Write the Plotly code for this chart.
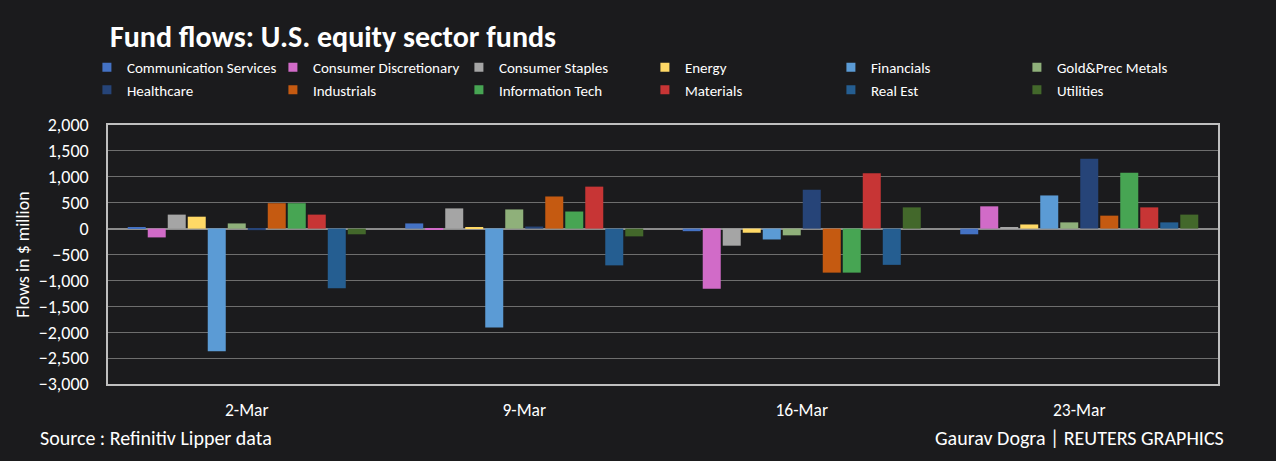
import plotly.graph_objects as go

weeks = ["2-Mar", "9-Mar", "16-Mar", "23-Mar"]
sectors = ["Communication Services", "Consumer Discretionary", "Consumer Staples", "Energy",
           "Financials", "Gold&Prec Metals", "Healthcare", "Industrials",
           "Information Tech", "Materials", "Real Est", "Utilities"]
colors = ["#4472C4", "#D16BC8", "#A5A5A5", "#FFD966",
          "#5B9BD5", "#8FB07A", "#264478", "#C55A11",
          "#47A553", "#C73535", "#255E91", "#43682B"]

comm_services = [25, 100, -50, -110]
consumer_disc = [-170, -10, -1160, 430]
consumer_staples = [270, 390, -330, 20]
energy = [230, 25, -80, 80]
financials = [-2370, -1910, -210, 640]
gold_prec_metals = [100, 370, -130, 120]
healthcare = [-30, 40, 750, 1350]
industrials = [490, 620, -850, 250]
information_tech = [490, 330, -850, 1080]
materials = [270, 810, 1070, 410]
real_est = [-1150, -710, -700, 120]
utilities = [-110, -150, 410, 270]

series = [comm_services, consumer_disc, consumer_staples, energy, financials,
          gold_prec_metals, healthcare, industrials, information_tech,
          materials, real_est, utilities]

y_ticks = [2000, 1500, 1000, 500, 0, -500, -1000, -1500, -2000, -2500, -3000]

FONT = "Carlito, Lato, 'Open Sans', sans-serif"
BG = "#1B1B1D"

fig = go.Figure()
for name, vals, col in zip(sectors, series, colors):
    fig.add_trace(go.Bar(x=weeks, y=vals, name=name, marker_color=col,
                         marker_line_width=0, legendgroup=name, showlegend=False))
for name, col in zip(sectors, colors):
    fig.add_trace(go.Scatter(x=[None], y=[None], mode="markers", name=name,
                             legendgroup=name,
                             marker=dict(symbol="square", size=9, color=col)))

fig.update_layout(
    width=1276, height=461,
    paper_bgcolor=BG, plot_bgcolor=BG,
    margin=dict(l=108, r=58, t=125, b=77),
    barmode="group", bargap=0.135, bargroupgap=0.1,
    font=dict(family=FONT, color="#FFFFFF", size=14),
    title=dict(text="<b>Fund flows: U.S. equity sector funds</b>",
               x=110 / 1276, xanchor="left", y=1 - 36 / 461, yanchor="middle",
               font=dict(size=30, color="#FFFFFF", family=FONT)),
    legend=dict(orientation="h", x=-0.019, xanchor="left", y=1 + (125 - 51) / 259,
                yanchor="top", entrywidth=141, entrywidthmode="pixels",
                font=dict(size=15, color="#FFFFFF"), itemwidth=30,
                tracegroupgap=0, bgcolor="rgba(0,0,0,0)"),
    showlegend=True,
)
fig.update_xaxes(showgrid=False, showline=True, mirror=True, linecolor="#BFBFBF",
                 linewidth=1.5, ticks="", ticklabelstandoff=9,
                 tickfont=dict(size=17.5, color="#FFFFFF"))
fig.update_yaxes(range=[-3000, 2000], tickvals=y_ticks, tickformat=",",
                 showgrid=True, gridcolor="#6E6E6E", gridwidth=1.2,
                 zeroline=True, zerolinecolor="#8C8C8C", zerolinewidth=1.5,
                 showline=True, mirror=True, linecolor="#BFBFBF", linewidth=1.5,
                 ticks="", ticklabelstandoff=14,
                 tickfont=dict(size=18, color="#FFFFFF"),
                 title=dict(text="Flows in $ million", font=dict(size=18, color="#FFFFFF"),
                            standoff=4))

fig.add_annotation(text="Source : Refinitiv Lipper data", xref="paper", yref="paper",
                   x=-70 / 1110, y=-(438 - 384) / 259, xanchor="left", yanchor="middle",
                   showarrow=False, font=dict(size=20, color="#FFFFFF"))
fig.add_annotation(text="Gaurav Dogra | REUTERS GRAPHICS", xref="paper", yref="paper",
                   x=(1226 - 108) / 1110, y=-(438 - 384) / 259, xanchor="right",
                   yanchor="middle", showarrow=False, font=dict(size=20, color="#FFFFFF"))

fig.write_html("out.html")
